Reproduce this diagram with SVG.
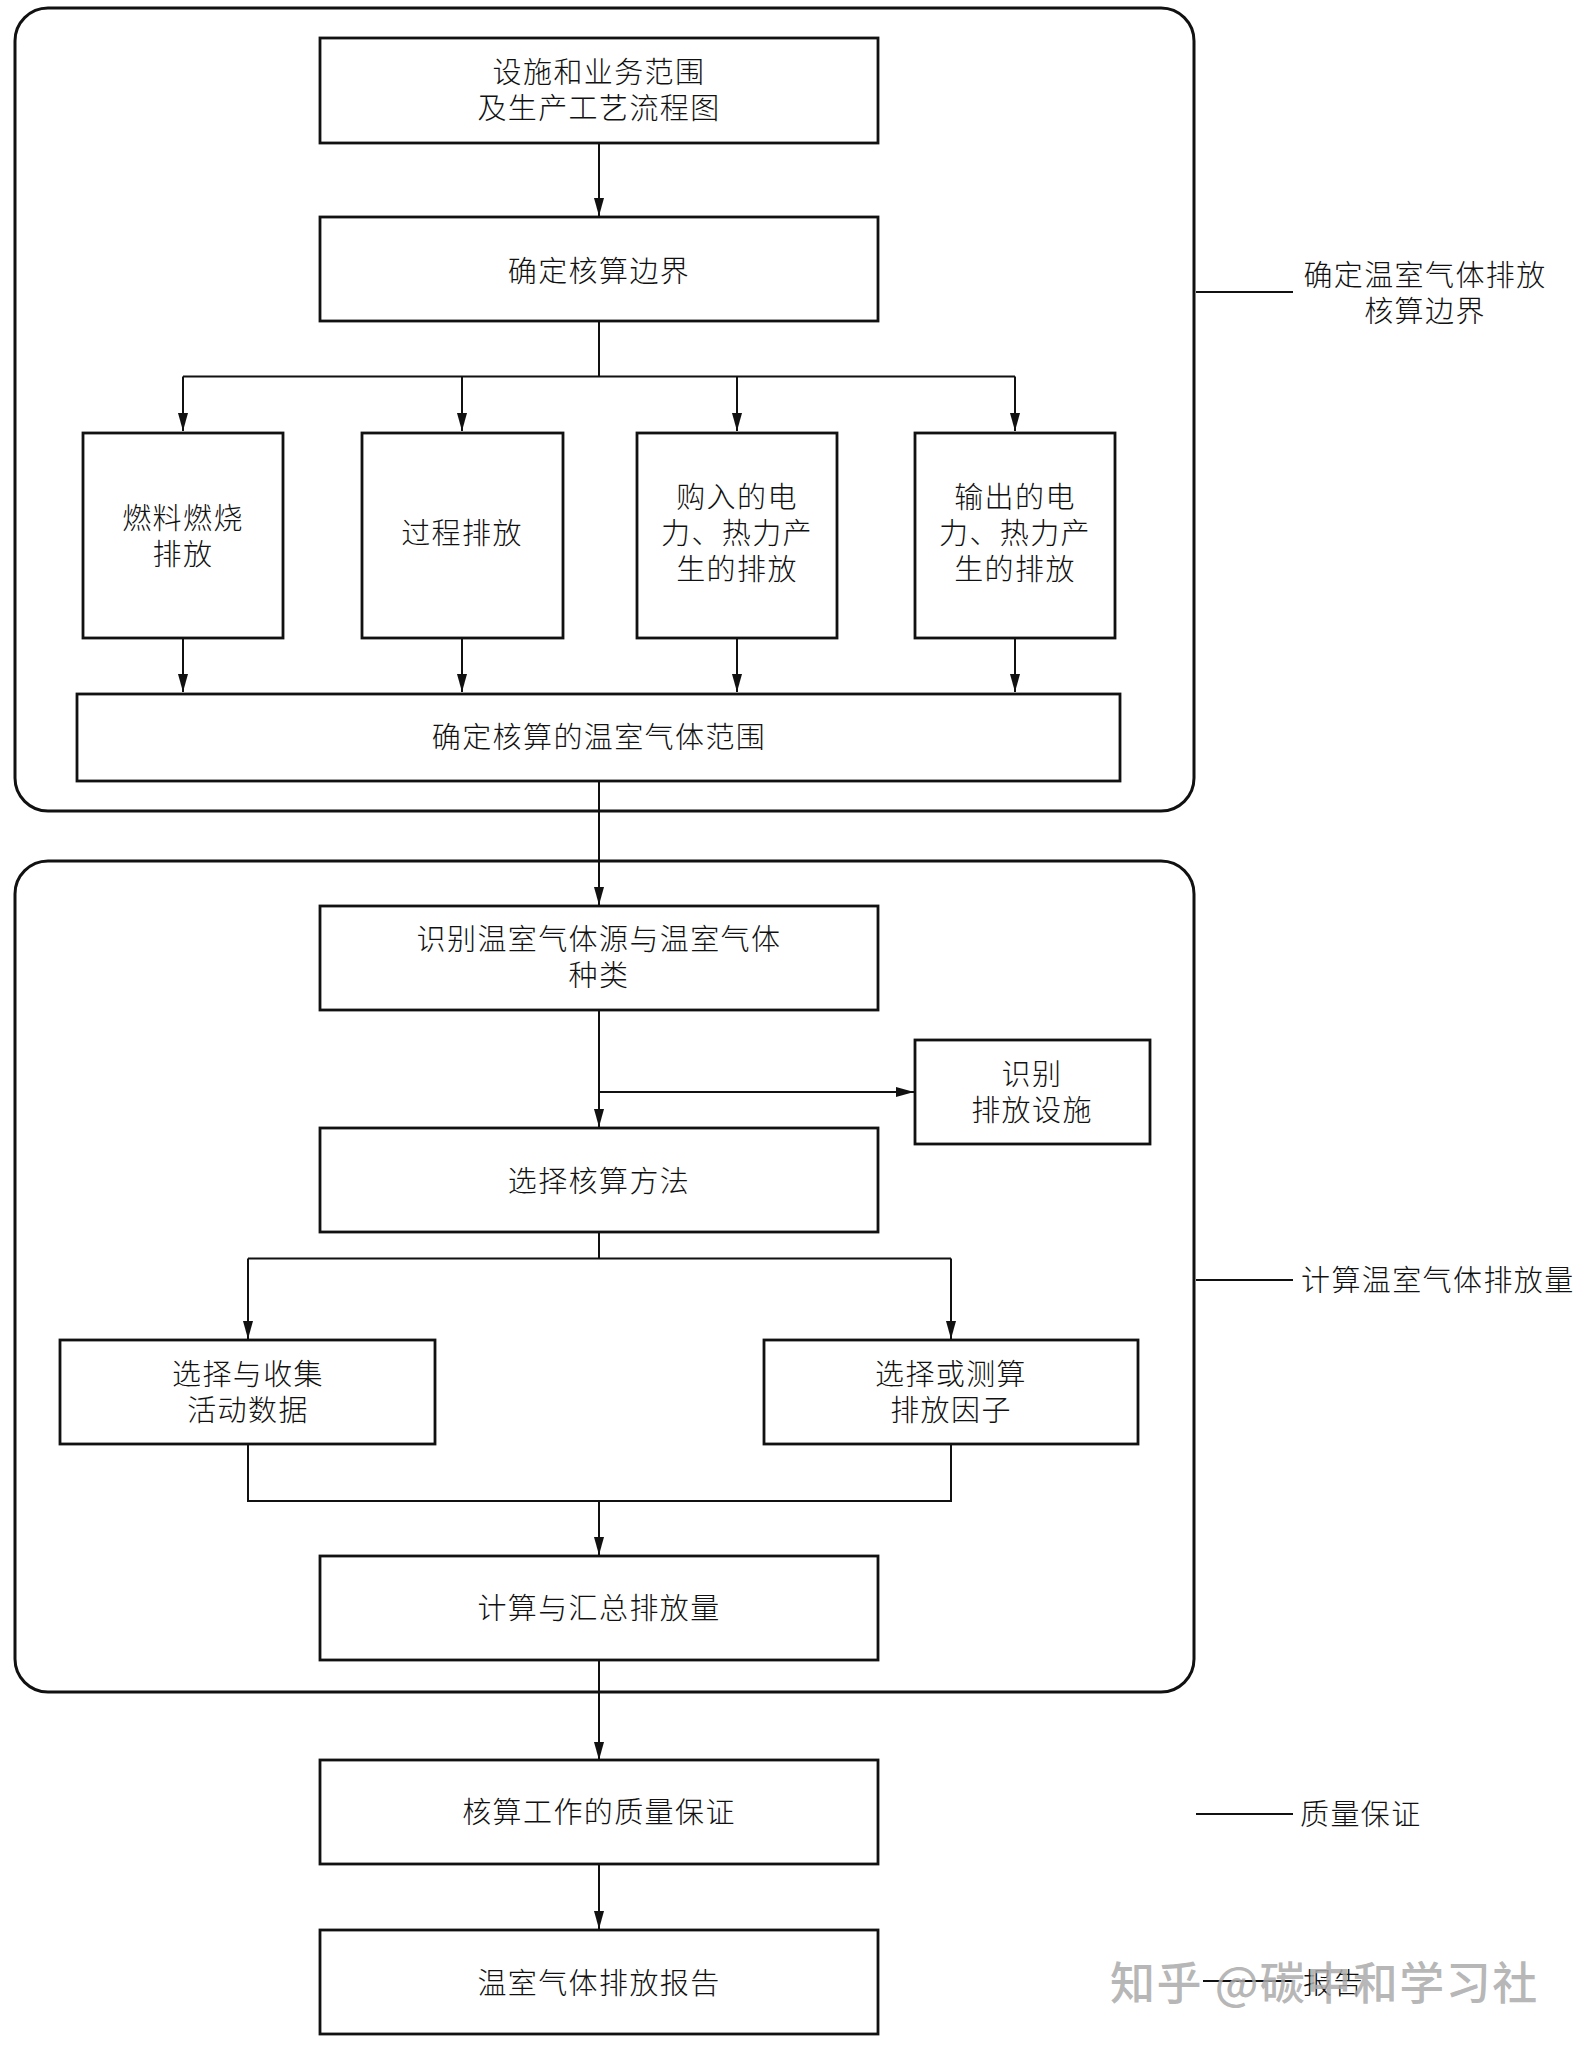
<svg xmlns="http://www.w3.org/2000/svg" width="1583" height="2048" viewBox="0 0 1583 2048">
<style>
.n{fill:#fff;stroke:#111;stroke-width:2.8}
.g{fill:none;stroke:#111;stroke-width:3}
.c{fill:none;stroke:#111;stroke-width:2}
.a{marker-end:url(#ah)}
text{font-family:"Noto Sans CJK SC","Noto Sans",sans-serif;font-size:29px;font-weight:300;fill:#111;text-anchor:middle;letter-spacing:1.4px}
.s{text-anchor:start}
.w{font-size:45px;fill:#aaa;font-weight:500;letter-spacing:1.5px;fill-opacity:.85}
</style>
<defs><marker id="ah" markerUnits="userSpaceOnUse" markerWidth="18" markerHeight="10" refX="18" refY="5" orient="auto" viewBox="0 0 18 10"><path d="M0 0L18 5L0 10Z" fill="#111"/></marker></defs>
<rect id="group-boundary" class="g" x="15" y="8" width="1179" height="803" rx="33"/>
<rect id="group-calc" class="g" x="15" y="861" width="1179" height="831" rx="33"/>
<g id="connectors">
<path class="c a" d="M599 143V216"/>
<path class="c" d="M599 321V376.500M183 376.500H1015"/>
<path class="c a" d="M183 376.500V431"/><path class="c a" d="M462 376.500V431"/><path class="c a" d="M737 376.500V431"/><path class="c a" d="M1015 376.500V431"/>
<path class="c a" d="M183 638V692"/><path class="c a" d="M462 638V692"/><path class="c a" d="M737 638V692"/><path class="c a" d="M1015 638V692"/>
<path class="c a" d="M599 781V905"/>
<path class="c a" d="M599 1010V1127"/>
<path class="c a" d="M599 1092H914"/>
<path class="c" d="M599 1231V1258.500M248 1258.500H951"/>
<path class="c a" d="M248 1258.500V1339"/><path class="c a" d="M951 1258.500V1339"/>
<path class="c" d="M248 1444V1501H951V1444"/>
<path class="c a" d="M599 1501V1555"/>
<path class="c a" d="M599 1660V1760"/>
<path class="c a" d="M599 1864V1929"/>
<path class="c" d="M1196 292H1293M1196 1280H1293M1196 1814H1293M1203 1981H1293"/>
</g>
<g id="n1"><rect class="n" x="320" y="38" width="558" height="105"/><text x="599" y="83">设施和业务范围</text><text x="599" y="119">及生产工艺流程图</text></g>
<g id="n2"><rect class="n" x="320" y="217" width="558" height="104"/><text x="599" y="282">确定核算边界</text></g>
<g id="n3"><rect class="n" x="83" y="433" width="200" height="205"/><text x="183" y="529">燃料燃烧</text><text x="183" y="565">排放</text></g>
<g id="n4"><rect class="n" x="362" y="433" width="201" height="205"/><text x="462" y="544">过程排放</text></g>
<g id="n5"><rect class="n" x="637" y="433" width="200" height="205"/><text x="737" y="508">购入的电</text><text x="737" y="544">力、热力产</text><text x="737" y="580">生的排放</text></g>
<g id="n6"><rect class="n" x="915" y="433" width="200" height="205"/><text x="1015" y="508">输出的电</text><text x="1015" y="544">力、热力产</text><text x="1015" y="580">生的排放</text></g>
<g id="n7"><rect class="n" x="77" y="694" width="1043" height="87"/><text x="599" y="748">确定核算的温室气体范围</text></g>
<g id="n8"><rect class="n" x="320" y="906" width="558" height="104"/><text x="599" y="950">识别温室气体源与温室气体</text><text x="599" y="986">种类</text></g>
<g id="n9"><rect class="n" x="915" y="1040" width="235" height="104"/><text x="1032" y="1085">识别</text><text x="1032" y="1121">排放设施</text></g>
<g id="n10"><rect class="n" x="320" y="1128" width="558" height="104"/><text x="599" y="1192">选择核算方法</text></g>
<g id="n11"><rect class="n" x="60" y="1340" width="375" height="104"/><text x="248" y="1385">选择与收集</text><text x="248" y="1421">活动数据</text></g>
<g id="n12"><rect class="n" x="764" y="1340" width="374" height="104"/><text x="951" y="1385">选择或测算</text><text x="951" y="1421">排放因子</text></g>
<g id="n13"><rect class="n" x="320" y="1556" width="558" height="104"/><text x="599" y="1619">计算与汇总排放量</text></g>
<g id="n14"><rect class="n" x="320" y="1760" width="558" height="104"/><text x="599" y="1823">核算工作的质量保证</text></g>
<g id="n15"><rect class="n" x="320" y="1930" width="558" height="104"/><text x="599" y="1994">温室气体排放报告</text></g>
<g id="labels">
<text x="1425" y="286">确定温室气体排放</text><text x="1425" y="322">核算边界</text>
<text class="s" x="1301" y="1291">计算温室气体排放量</text>
<text class="s" x="1300" y="1825">质量保证</text>
<text class="s" x="1303" y="1994">报告</text>
</g>
<text class="w s" x="1110" y="2000">知乎 @碳中和学习社</text>
</svg>
